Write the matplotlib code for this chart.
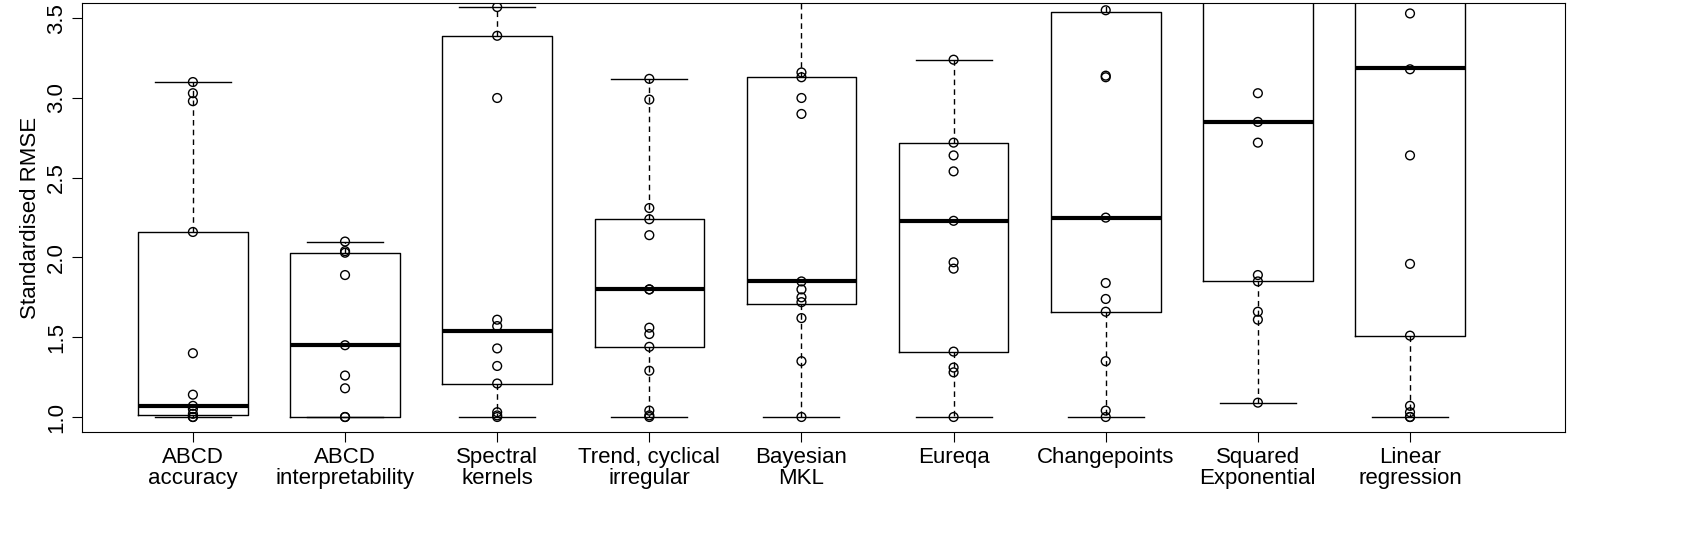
import matplotlib
matplotlib.use("Agg")
import matplotlib.pyplot as plt

categories = ["ABCD\naccuracy", "ABCD\ninterpretability", "Spectral\nkernels", "Trend, cyclical\nirregular",
              "Bayesian\nMKL", "Eureqa", "Changepoints", "Squared\nExponential", "Linear\nregression"]
q1 = [1.01, 1.0, 1.21, 1.44, 1.71, 1.41, 1.66, 1.85, 1.51]
med = [1.07, 1.45, 1.54, 1.80, 1.85, 2.23, 2.25, 2.85, 3.19]
q3 = [2.16, 2.03, 3.39, 2.24, 3.13, 2.72, 3.54, 3.9, 3.9]
whislo = [1.0, 1.0, 1.0, 1.0, 1.0, 1.0, 1.0, 1.09, 1.0]
whishi = [3.10, 2.10, 3.57, 3.12, 4.0, 3.24, 4.0, 4.2, 4.2]
points = [
    [3.10, 3.03, 2.98, 2.16, 1.40, 1.14, 1.07, 1.05, 1.02, 1.0, 1.0],
    [2.10, 2.04, 2.03, 1.89, 1.45, 1.26, 1.18, 1.0, 1.0],
    [3.57, 3.39, 3.0, 1.61, 1.57, 1.43, 1.32, 1.21, 1.03, 1.01, 1.0],
    [3.12, 2.99, 2.31, 2.24, 2.14, 1.80, 1.80, 1.56, 1.52, 1.44, 1.29, 1.04, 1.01, 1.0],
    [3.16, 3.13, 3.00, 2.90, 1.85, 1.80, 1.75, 1.72, 1.62, 1.35, 1.0],
    [3.24, 2.72, 2.64, 2.54, 2.23, 1.97, 1.93, 1.41, 1.31, 1.28, 1.0],
    [3.55, 3.14, 3.13, 2.25, 1.84, 1.74, 1.66, 1.35, 1.04, 1.0],
    [3.03, 2.85, 2.72, 1.89, 1.85, 1.66, 1.61, 1.09],
    [3.53, 3.18, 2.64, 1.96, 1.51, 1.07, 1.03, 1.0, 1.0],
]
yticks = [1.0, 1.5, 2.0, 2.5, 3.0, 3.5]

plt.rcParams['font.family'] = ['Liberation Sans', 'DejaVu Sans']
fig = plt.figure(figsize=(17.05, 5.4), dpi=100)
ax = fig.add_axes([0.048, 0.2, 0.870, 0.794])
stats = [dict(q1=a, med=m, q3=b, whislo=lo, whishi=hi, fliers=[]) for a, m, b, lo, hi in zip(q1, med, q3, whislo, whishi)]
pos = list(range(1, len(categories) + 1))
ax.bxp(stats, positions=pos, widths=0.72, showfliers=False,
       boxprops=dict(color='black', linewidth=1),
       medianprops=dict(color='black', linewidth=3),
       whiskerprops=dict(color='black', linewidth=1, linestyle=(0, (4, 3))),
       capprops=dict(color='black', linewidth=1), capwidths=0.5)
for p, vals in zip(pos, points):
    ax.scatter([p] * len(vals), vals, s=40, facecolors='none', edgecolors='black', linewidths=1, zorder=3)
ax.set_xlim(0.27, 10.02)
ax.set_ylim(0.906, 3.594)
ax.set_xticks(pos)
ax.set_xticklabels(categories, fontsize=16, linespacing=1.05)
ax.set_yticks(yticks)
ax.set_yticklabels([f"{v:.1f}" for v in yticks], fontsize=16, rotation=90, va='center')
ax.set_ylabel("Standardised RMSE", fontsize=16, labelpad=4)
ax.tick_params(length=7)
fig.savefig("out.png", dpi=100)
